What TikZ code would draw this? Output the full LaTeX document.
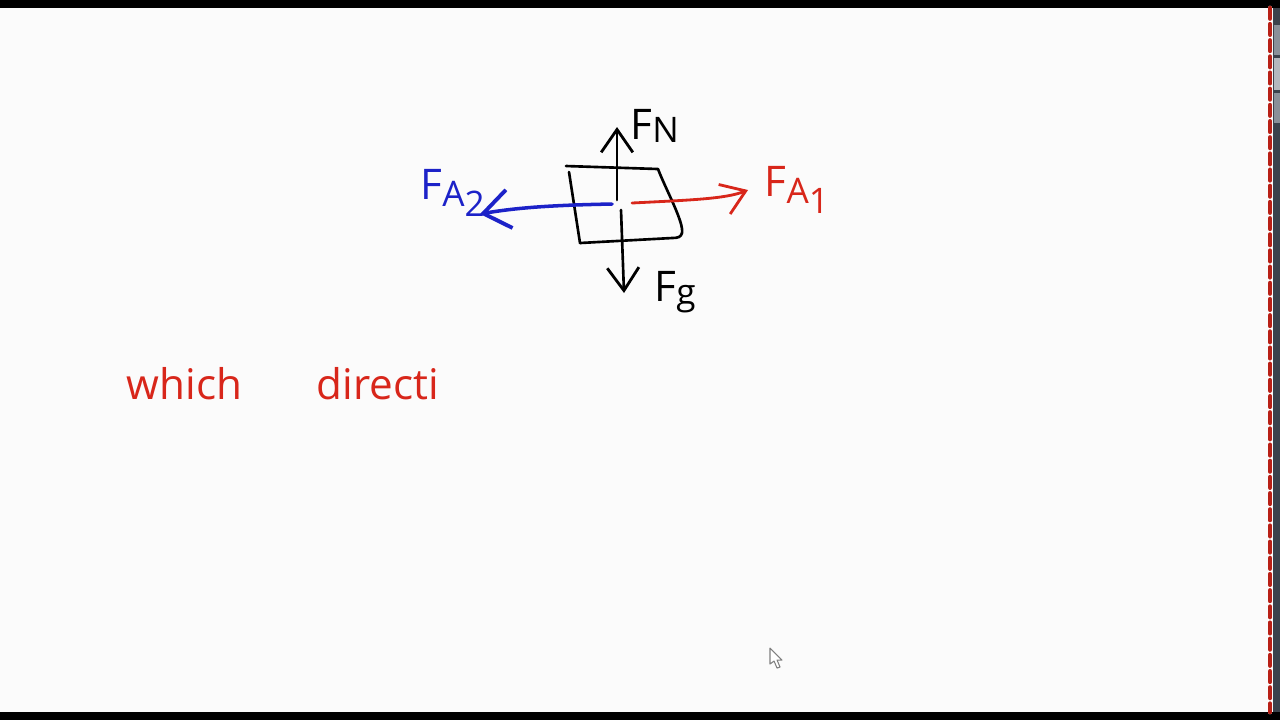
\documentclass[tikz,border=0pt]{standalone}
\usepackage{fontspec}
\setmainfont{Open Sans}
\usetikzlibrary{arrows.meta}
\definecolor{penred}{HTML}{D8261A}
\definecolor{penblue}{HTML}{1C22C8}
\definecolor{paper}{HTML}{FBFBFB}
\definecolor{panel}{HTML}{3B424C}
\definecolor{tab}{HTML}{8A9099}
\definecolor{tablight}{HTML}{B4B8BE}
\begin{document}
\begin{tikzpicture}[x=0.01cm,y=-0.01cm,line cap=round,line join=round,
  pen/.style={line width=0.75pt},
  bluepen/.style={line width=1pt,penblue},
  redpen/.style={line width=0.8pt,penred},
  head/.style={-{Straight Barb[length=6.5pt,width=9pt,line width=0.8pt]}},
  bighead/.style={-{Straight Barb[length=7.5pt,width=11pt,line width=1.1pt]}},
  lbl/.style={font=\fontsize{12}{14}\selectfont,inner sep=0pt},
  hand/.style={font=\fontsize{12}{14}\selectfont,inner sep=0pt,text=penred}]
\useasboundingbox (0,0) rectangle (1280,720);
% screen
\fill[paper] (0,0) rectangle (1280,720);
\fill[black] (0,0) rectangle (1280,8);
\fill[black] (0,712) rectangle (1280,720);
\fill[panel] (1273,8) rectangle (1280,712);
\fill[tab] (1274,25) rectangle (1280,55);
\fill[tablight] (1274,58) rectangle (1280,90);
\fill[tab] (1274,93) rectangle (1280,123);
\draw[white,line width=1.3pt] (1270,8) -- (1270,712);
\draw[penred!85!black,line width=1.3pt,dash pattern=on 3pt off 1.6pt] (1270,8) -- (1270,712);
% box
\draw[pen] (566,166) -- (658,169) .. controls (666,190) and (684,222) .. (682,233)
  .. controls (681,237) and (678,238) .. (672,238) -- (580,243);
\draw[pen] (569,172) -- (580,243);
% coordinates
\coordinate (nt) at (617,200);
\coordinate (ntop) at (617,127);
\coordinate (gt) at (621,210);
\coordinate (gbot) at (624,293);
\coordinate (bt) at (612,204);
\coordinate (bend) at (480,214);
\coordinate (rt) at (632,203);
\coordinate (rend) at (748,190);
% arrows
\draw[pen,head] (nt) -- (ntop);
\draw[pen,head] (gt) -- (gbot);
\draw[bluepen,bighead] (bt) .. controls (560,205) and (520,207) .. (bend);
\draw[redpen,head] (rt) .. controls (690,200) and (725,199) .. (rend);
% labels
\node[lbl,anchor=west] (fn) at (630,126) {F\raisebox{-1pt}{\fontsize{10}{10}\selectfont N}};
\node[lbl,anchor=west,text=penblue] (fa2) at (420,193) {F\raisebox{-2pt}{\fontsize{10}{10}\selectfont A\raisebox{-3pt}{2}}};
\node[lbl,anchor=west,text=penred] (fa1) at (764,190) {F\raisebox{-2pt}{\fontsize{10}{10}\selectfont A\raisebox{-3pt}{1}}};
\node[lbl,anchor=west] (fg) at (654,292) {F\raisebox{-1pt}{\fontsize{10}{10}\selectfont g}};
% handwriting
\node[hand,anchor=base west] (w1) at (126,399) {which};
\node[hand,anchor=base west] (w2) at (316,399) {directi};
% cursor
\filldraw[fill=white,draw=gray,line width=0.3pt] (770,648) -- (770,664) -- (774,661) -- (777,668)
  -- (780,667) -- (777,660) -- (782,660) -- cycle;
\end{tikzpicture}
\end{document}
